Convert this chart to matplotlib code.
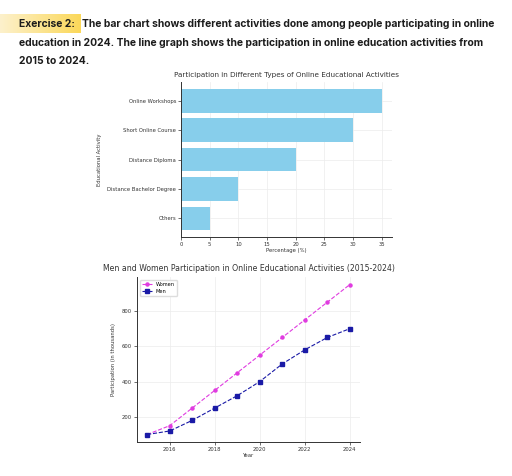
import numpy as np
import matplotlib.pyplot as plt
from matplotlib.colors import LinearSegmentedColormap

activities = ['Online Workshops', 'Short Online Course', 'Distance Diploma',
              'Distance Bachelor Degree', 'Others']
percentages = [35, 30, 20, 10, 5]

years = [2015, 2016, 2017, 2018, 2019, 2020, 2021, 2022, 2023, 2024]
women = [100, 150, 250, 350, 450, 550, 650, 750, 850, 950]
men = [100, 120, 180, 250, 320, 400, 500, 580, 650, 700]

fig = plt.figure(figsize=(5.12, 4.76), dpi=100)

# header text with highlighted label
grad = np.linspace(0, 1, 100).reshape(1, -1)
hl = fig.add_axes([0.0, 0.93, 0.157, 0.04])
hl.imshow(grad, aspect='auto',
          cmap=LinearSegmentedColormap.from_list('hl', ['#fdf1cc', '#fbd85a']))
hl.axis('off')

hfont = dict(family=['Inter', 'DejaVu Sans'], fontweight='bold', fontsize=7.45, color='#1c1c1c')
fig.text(0.038, 0.949, 'Exercise 2:', va='center', **hfont)
fig.text(0.16, 0.949, 'The bar chart shows different activities done among people participating in online',
         va='center', **hfont)
fig.text(0.038, 0.909, 'education in 2024. The line graph shows the participation in online education activities from',
         va='center', **hfont)
fig.text(0.038, 0.871, '2015 to 2024.', va='center', **hfont)

# bar chart
ax1 = fig.add_axes([0.3535, 0.502, 0.412, 0.3256])
ax1.barh(activities, percentages, color='skyblue', zorder=2)
ax1.invert_yaxis()
ax1.set_title('Participation in Different Types of Online Educational Activities',
              fontsize=5.2, color='#333333', pad=4)
ax1.set_xlabel('Percentage (%)', fontsize=3.8, labelpad=1, color='#333333')
ax1.set_ylabel('Educational Activity', fontsize=3.8, labelpad=4, color='#333333')
ax1.set_xticks(range(0, 40, 5))
ax1.tick_params(labelsize=3.8, length=2, width=0.5, pad=1.5, colors='#333333')
ax1.grid(True, color='#ececec', linewidth=0.5, zorder=0)
for s in ['top', 'right']:
    ax1.spines[s].set_visible(False)
for s in ['left', 'bottom']:
    ax1.spines[s].set_linewidth(0.7)
    ax1.spines[s].set_color('#333333')

# line chart
ax2 = fig.add_axes([0.2676, 0.0714, 0.4355, 0.3466])
ax2.plot(years, women, color='#e03ce0', linestyle='--', marker='o', markersize=2.2,
         linewidth=0.8, label='Women')
ax2.plot(years, men, color='#1a1aa6', linestyle='--', marker='s', markersize=2.2,
         linewidth=0.8, label='Men')
ax2.set_title('Men and Women Participation in Online Educational Activities (2015-2024)',
              fontsize=5.6, color='#333333', pad=4)
ax2.set_xlabel('Year', fontsize=3.8, labelpad=1, color='#333333')
ax2.set_ylabel('Participation (in thousands)', fontsize=3.8, labelpad=4, color='#333333')
ax2.set_xticks([2016, 2018, 2020, 2022, 2024])
ax2.set_yticks([200, 400, 600, 800])
ax2.tick_params(labelsize=3.8, length=2, width=0.5, pad=1.5, colors='#333333')
ax2.grid(True, color='#ececec', linewidth=0.5)
ax2.legend(loc='upper left', fontsize=3.6, frameon=True, framealpha=1,
           edgecolor='#dddddd', handlelength=2)
for s in ['top', 'right']:
    ax2.spines[s].set_visible(False)
for s in ['left', 'bottom']:
    ax2.spines[s].set_linewidth(0.7)
    ax2.spines[s].set_color('#333333')

fig.savefig('out.png', dpi=100)
